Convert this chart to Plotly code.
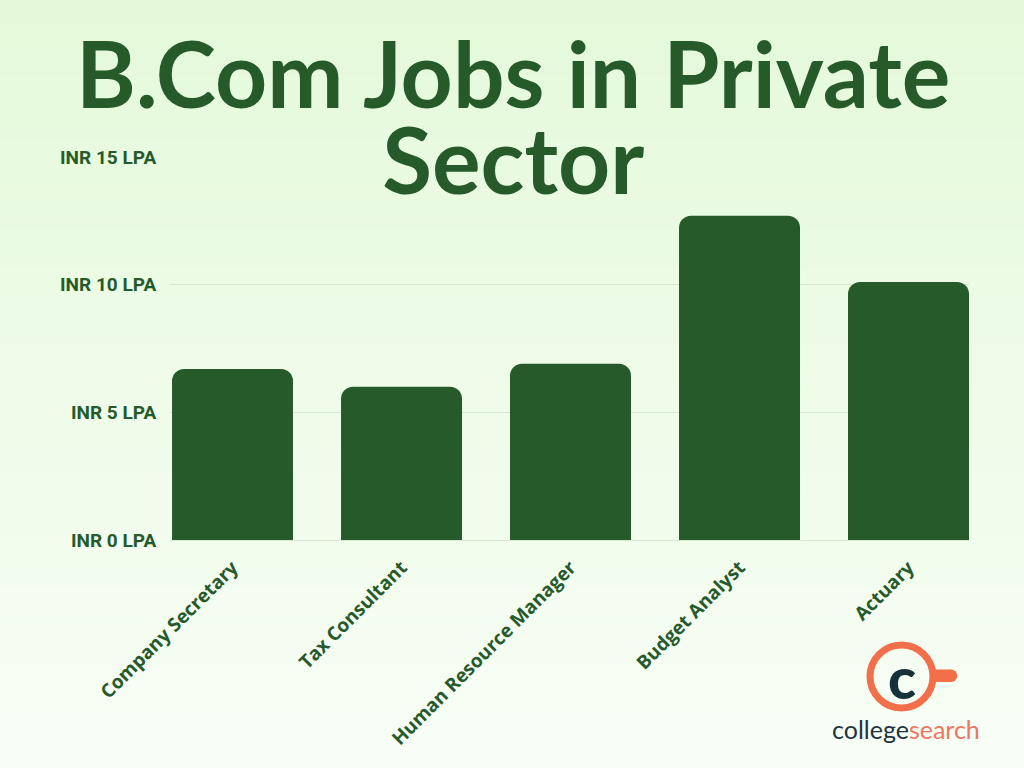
import plotly.graph_objects as go

categories = ["Company Secretary", "Tax Consultant", "Human Resource Manager", "Budget Analyst", "Actuary"]
salaries_lpa = [6.7, 6.0, 6.9, 12.7, 10.1]
tick_values = [0, 5, 10, 15]
tick_labels = ["INR 0 LPA", "INR 5 LPA", "INR 10 LPA", "INR 15 LPA"]
title_lines = ["B.Com Jobs in Private", "Sector"]

GREEN = "#265a2b"
ORANGE = "#f26f4a"
NAVY = "#17313a"

W, H = 1024, 768
ML, MR, MT, MB = 170, 55, 157, 228
PW, PH = W - ML - MR, H - MT - MB


def px(x):
    return (x - ML) / PW


def py(y):
    return (H - MB - y) / PH


fig = go.Figure(
    go.Bar(
        x=list(range(len(categories))),
        y=salaries_lpa,
        marker=dict(color=GREEN, cornerradius=12, line=dict(width=0)),
        width=0.716,
        hoverinfo="skip",
    )
)

shapes = []
# background gradient (top: light green, bottom: near white)
N = 60
top = (228, 249, 218)
bot = (248, 254, 246)
for i in range(N):
    t = i / (N - 1)
    c = tuple(round(top[k] + (bot[k] - top[k]) * t) for k in range(3))
    shapes.append(dict(type="rect", xref="paper", yref="paper",
                       x0=px(-5), x1=px(W + 5), y0=py(i * H / N - 1), y1=py((i + 1) * H / N + 1),
                       fillcolor="rgb(%d,%d,%d)" % c, line=dict(width=0), layer="below"))

# logo: cup ring + handle
cx, cy, r = 901.5, 676.5, 31.5
shapes.append(dict(type="circle", xref="paper", yref="paper",
                   x0=px(cx - r), x1=px(cx + r), y0=py(cy - r), y1=py(cy + r),
                   line=dict(color=ORANGE, width=7), fillcolor="rgba(0,0,0,0)", layer="above"))
shapes.append(dict(type="rect", xref="paper", yref="paper",
                   x0=px(935), x1=px(951), y0=py(669.5), y1=py(682),
                   fillcolor=ORANGE, line=dict(width=0), layer="above"))
shapes.append(dict(type="circle", xref="paper", yref="paper",
                   x0=px(951 - 6.25), x1=px(951 + 6.25), y0=py(675.75 - 6.25), y1=py(675.75 + 6.25),
                   fillcolor=ORANGE, line=dict(width=0), layer="above"))

# Title as one text block: outer font size sets the (tight) line spacing,
# inner spans set the large glyph size.
title_text = "<br>".join("<span style='font-size:91px'>%s</span>" % t for t in title_lines)
annotations = [
    dict(text=title_text, x=px(513), y=py(115.5), xref="paper", yref="paper",
         xanchor="center", yanchor="middle", showarrow=False,
         font=dict(family="Lato, sans-serif", size=66, color=GREEN, weight="bold")),
    dict(text="c", x=px(cx), y=py(cy), xref="paper", yref="paper",
         xanchor="center", yanchor="middle", showarrow=False,
         font=dict(family="Lato, sans-serif", size=58, color=NAVY, weight=900)),
    dict(text="college<span style='color:#ef7560'>search</span>", x=px(906), y=py(729),
         xref="paper", yref="paper", xanchor="center", yanchor="middle", showarrow=False,
         font=dict(family="Lato, sans-serif", size=25, color="#1d3440")),
]

fig.update_layout(
    width=W, height=H,
    margin=dict(l=ML, r=MR, t=MT, b=MB, autoexpand=False),
    paper_bgcolor="#f0fdec",
    plot_bgcolor="rgba(0,0,0,0)",
    showlegend=False,
    shapes=shapes,
    annotations=annotations,
    xaxis=dict(
        tickmode="array", tickvals=list(range(len(categories))), ticktext=categories,
        tickangle=-45, range=[-0.37, 4.358], showgrid=False, zeroline=False,
        showline=False, ticks="outside", ticklen=8, tickcolor="rgba(0,0,0,0)",
        tickfont=dict(family="Open Sans, sans-serif", size=19, color=GREEN, weight="bold"),
        fixedrange=True,
    ),
    yaxis=dict(
        tickmode="array", tickvals=tick_values, ticktext=tick_labels,
        range=[0, 15], showgrid=True, gridcolor="#d8e8d2", gridwidth=1,
        zeroline=True, zerolinecolor="#d8e8d2", zerolinewidth=1, showline=False,
        ticks="outside", ticklen=9, tickcolor="rgba(0,0,0,0)",
        tickfont=dict(family="Roboto, sans-serif", size=19, color=GREEN, weight="bold"),
        fixedrange=True,
    ),
)

fig.write_html("out.html")
